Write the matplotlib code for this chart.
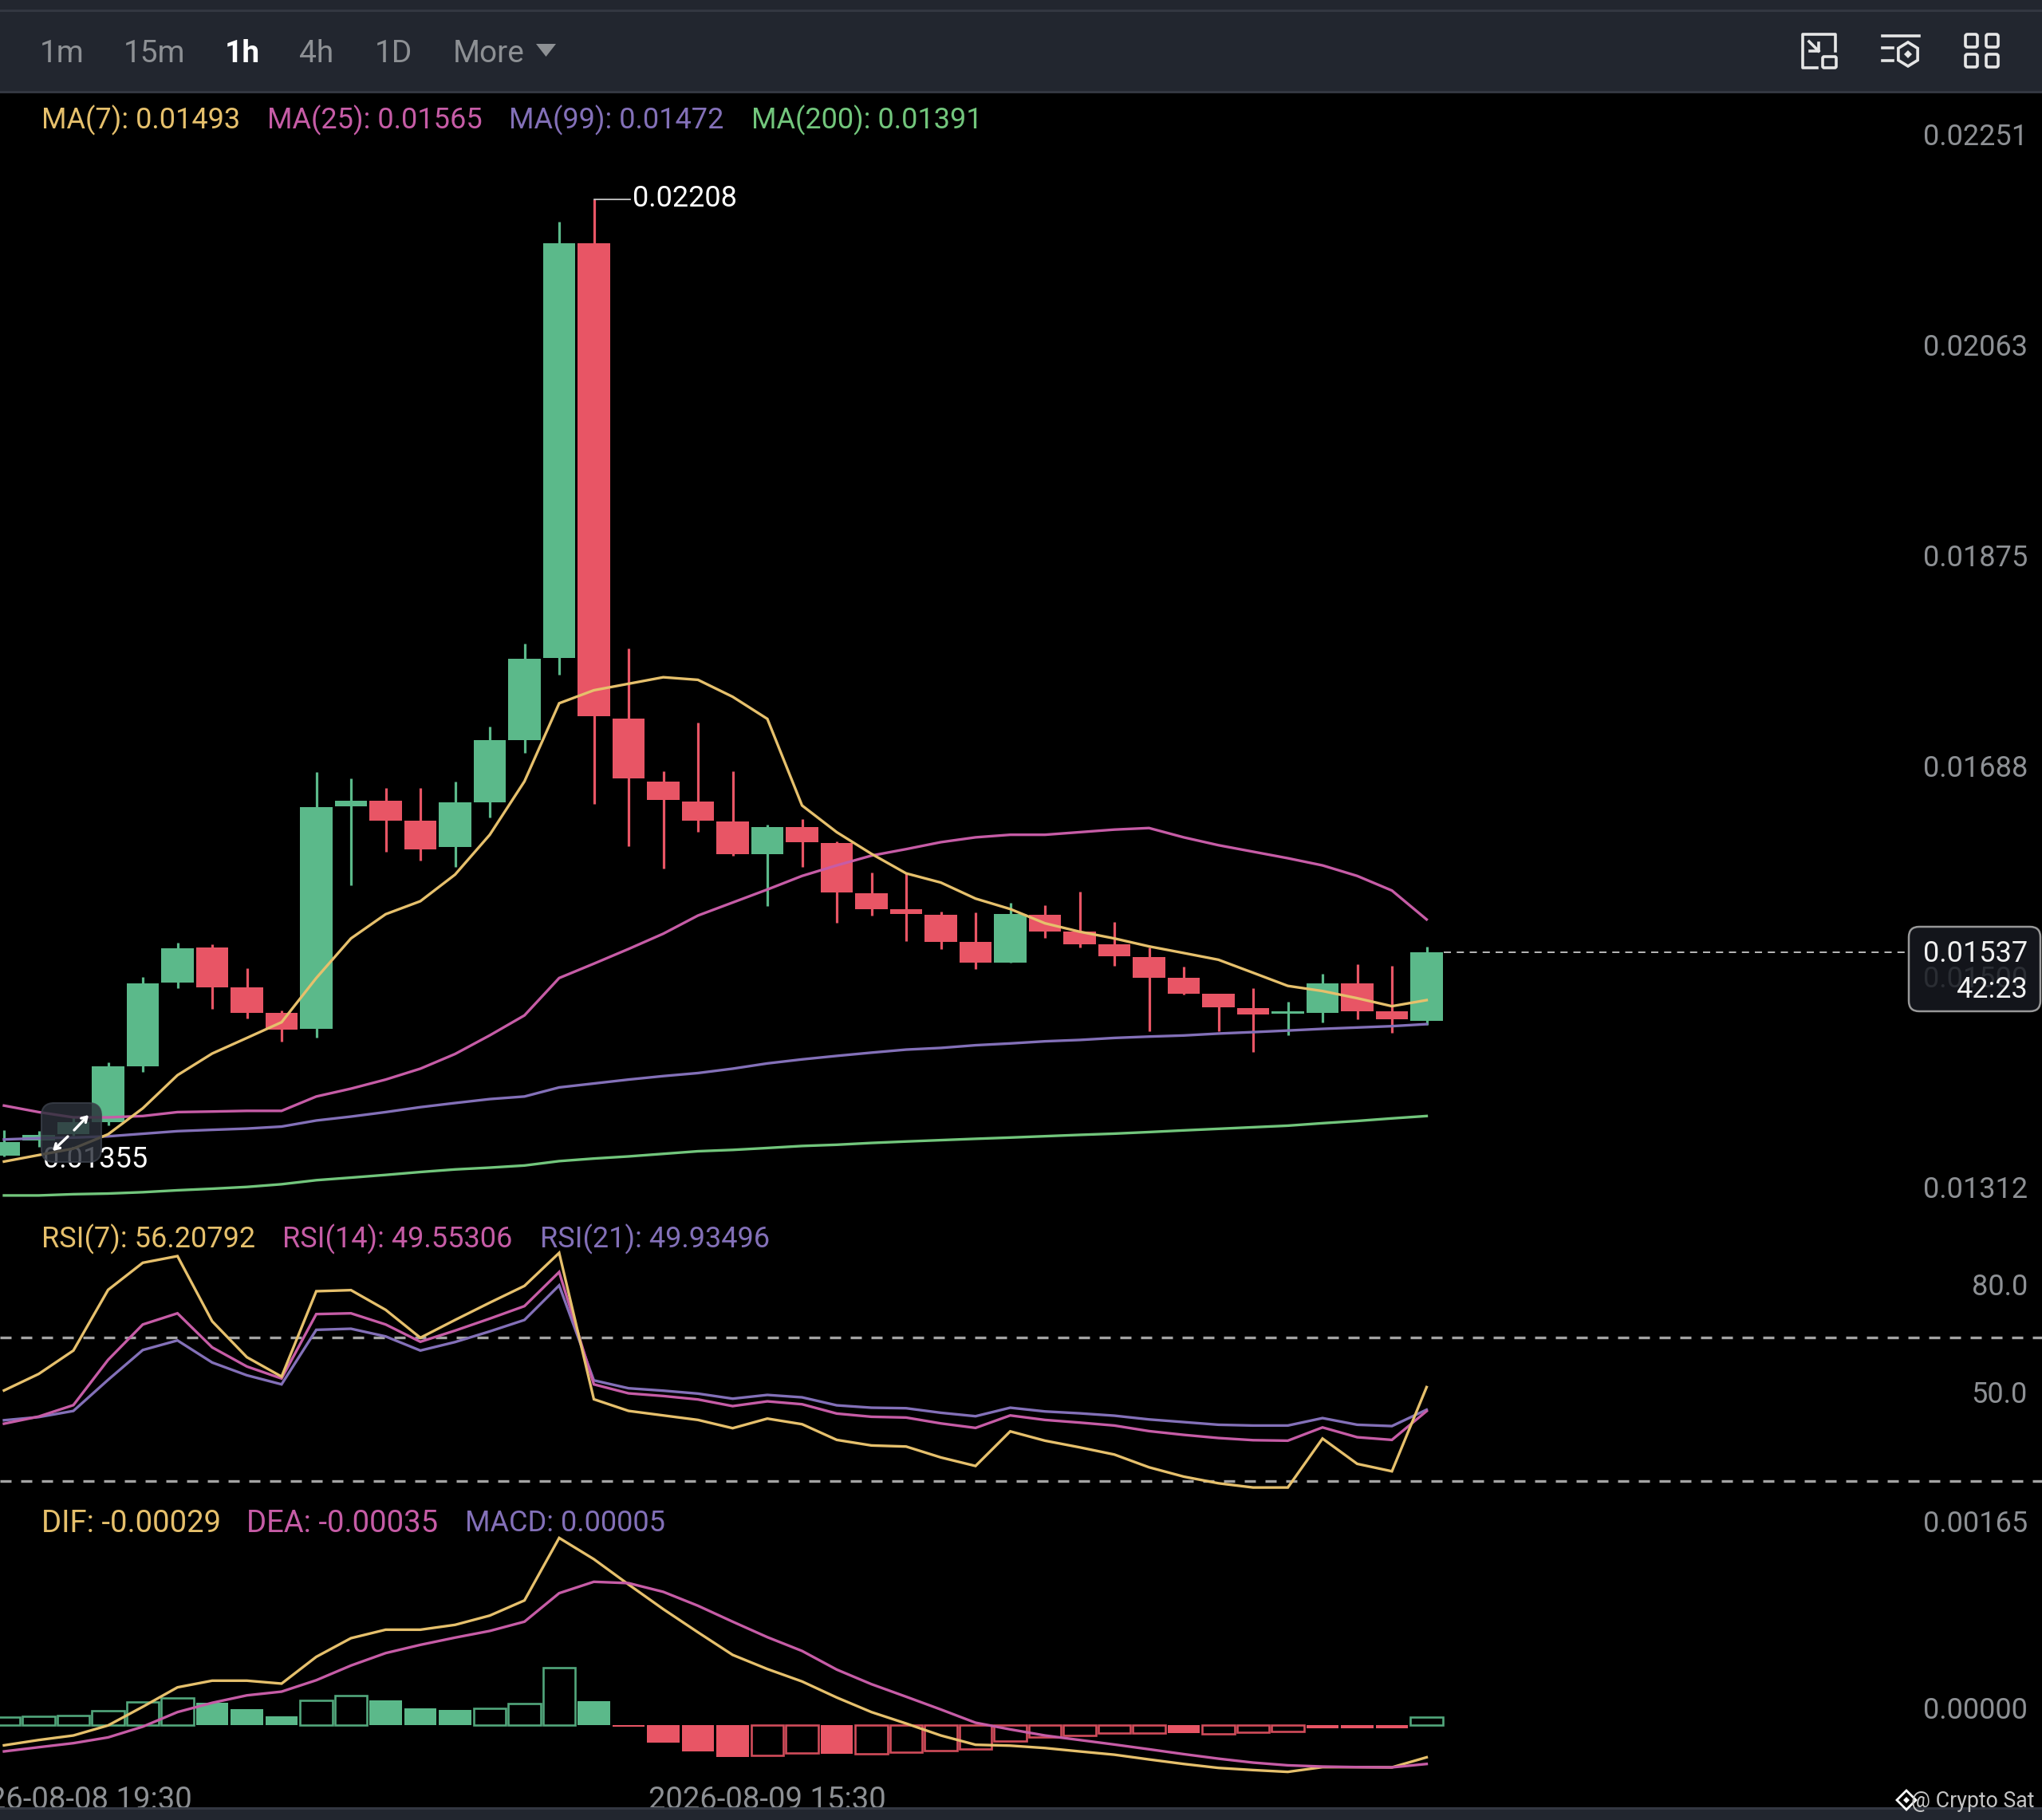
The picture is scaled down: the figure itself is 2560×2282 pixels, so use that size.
import numpy as np
import matplotlib
matplotlib.use("Agg")
import matplotlib.pyplot as plt
from matplotlib.patches import FancyBboxPatch, Polygon, Rectangle

plt.rcParams["font.family"] = ["Roboto", "DejaVu Sans"]

# candles, oldest first
opens = [0.01356, 0.013693, 0.013752, 0.013852, 0.014351, 0.015097, 0.015411, 0.015059, 0.014827, 0.014687, 0.016668,
         0.016721, 0.016545, 0.016305, 0.016707, 0.017264, 0.017995, 0.021687, 0.01745, 0.016893, 0.016713, 0.016535,
         0.016243, 0.016487, 0.016341, 0.015895, 0.015755, 0.015702, 0.015465, 0.015279, 0.015702, 0.015553, 0.015442,
         0.015328, 0.01514, 0.015001, 0.014873, 0.01482, 0.01483, 0.015094, 0.014842, 0.014759]
closes = [0.013678, 0.01374, 0.013852, 0.014356, 0.015094, 0.015407, 0.015059, 0.014827, 0.014677, 0.016664, 0.016721,
          0.016546, 0.016287, 0.016707, 0.017264, 0.017984, 0.021687, 0.017473, 0.016916, 0.01673, 0.016545, 0.016244,
          0.016487, 0.01635, 0.015906, 0.015755, 0.015714, 0.015465, 0.015279, 0.015714, 0.015553, 0.015442, 0.015333,
          0.01514, 0.015001, 0.014878, 0.014817, 0.014844, 0.015094, 0.014842, 0.014771, 0.01537]
highs = [0.013782, 0.013776, 0.013898, 0.014392, 0.015152, 0.015457, 0.015442, 0.015224, 0.01485, 0.016974, 0.016916,
         0.016835, 0.016835, 0.016893, 0.01738, 0.018123, 0.021884, 0.02208, 0.018077, 0.016986, 0.017415, 0.016986,
         0.01651, 0.016556, 0.016359, 0.01608, 0.01608, 0.015732, 0.015725, 0.015813, 0.01579, 0.015909, 0.015639,
         0.015411, 0.015245, 0.015001, 0.015052, 0.014931, 0.015175, 0.015261, 0.015252, 0.015422]
lows = [0.01355, 0.013636, 0.013736, 0.013829, 0.014306, 0.015047, 0.014862, 0.01478, 0.014571, 0.014606, 0.015964,
        0.016266, 0.016185, 0.016127, 0.016568, 0.017148, 0.017845, 0.016695, 0.016312, 0.016115, 0.016446, 0.016231,
        0.015782, 0.016127, 0.015631, 0.015697, 0.01547, 0.015399, 0.015221, 0.015279, 0.0155, 0.015411, 0.015252,
        0.014669, 0.01499, 0.014669, 0.014479, 0.014629, 0.014746, 0.014769, 0.014653, 0.014722]

ma7 = [0.013504, 0.013562, 0.01362, 0.013747, 0.013979, 0.014274, 0.014467, 0.014606, 0.014746, 0.01514, 0.015493,
       0.015709, 0.015825, 0.016062, 0.016417, 0.016893, 0.017589, 0.017705, 0.017763, 0.017821, 0.017798, 0.017647,
       0.01745, 0.016678, 0.01644, 0.016247, 0.016073, 0.015991, 0.015848, 0.015755, 0.015628, 0.015553, 0.015493,
       0.015422, 0.015363, 0.015303, 0.015187, 0.01507, 0.015024, 0.01496, 0.014889, 0.014943]
ma25 = [0.014003, 0.013945, 0.013898, 0.013898, 0.01391, 0.013945, 0.01395, 0.013956, 0.013956, 0.014084, 0.014154,
        0.014235, 0.014332, 0.014463, 0.014629, 0.014807, 0.01514, 0.015268, 0.015399, 0.015535, 0.015697, 0.015813,
        0.015929, 0.01605, 0.016144, 0.016231, 0.016289, 0.016351, 0.016394, 0.016417, 0.016417, 0.01644, 0.016463,
        0.016477, 0.016394, 0.016324, 0.016266, 0.016208, 0.016144, 0.01605, 0.01592, 0.015662]
ma99 = [0.013701, 0.013712, 0.013718, 0.013729, 0.013752, 0.013775, 0.013787, 0.013798, 0.013816, 0.01387, 0.013905,
        0.013945, 0.013989, 0.014026, 0.014061, 0.014084, 0.014165, 0.0142, 0.014235, 0.014266, 0.014293, 0.014332,
        0.014379, 0.014415, 0.014446, 0.014475, 0.014502, 0.014517, 0.014541, 0.014557, 0.014576, 0.014588, 0.014606,
        0.014618, 0.014628, 0.014645, 0.014658, 0.014672, 0.014687, 0.014699, 0.014711, 0.014729]
ma200 = [0.013202, 0.013202, 0.013213, 0.013219, 0.013231, 0.013248, 0.013262, 0.013278, 0.013302, 0.013338, 0.013361,
         0.013385, 0.013411, 0.013434, 0.01345, 0.013469, 0.013508, 0.013531, 0.01355, 0.013573, 0.013596, 0.013608,
         0.013625, 0.013643, 0.013654, 0.01367, 0.013683, 0.013695, 0.013707, 0.013718, 0.01373, 0.013742, 0.013753,
         0.013767, 0.013782, 0.013796, 0.01381, 0.013824, 0.013846, 0.013866, 0.013889, 0.01391]

rsi7 = [55.28, 59.87, 66.38, 83.24, 90.78, 92.63, 74.51, 64.53, 59.13, 82.87, 83.17, 77.69, 69.93, 74.88, 79.69, 84.35,
        93.52, 52.84, 49.6, 48.34, 47.09, 44.79, 47.46, 45.9, 41.54, 39.99, 39.69, 36.66, 34.29, 43.91, 41.32, 39.47,
        37.47, 33.92, 31.33, 29.48, 28.3, 28.3, 41.91, 34.88, 32.81, 56.21]
rsi14 = [46.04, 48.03, 51.21, 63.79, 73.62, 76.73, 67.26, 61.94, 58.61, 76.51, 76.73, 73.62, 68.82, 71.92, 75.25, 78.73,
         88.2, 56.98, 54.48, 53.74, 52.78, 50.93, 52.26, 51.45, 48.86, 47.97, 47.75, 46.12, 44.87, 48.34, 47.09, 46.35,
         45.53, 43.98, 42.94, 42.06, 41.46, 41.32, 45.01, 42.28, 41.54, 49.55]
rsi21 = [47.0, 47.88, 49.59, 58.24, 66.52, 69.19, 63.05, 59.5, 56.98, 72.14, 72.44, 70.3, 66.38, 68.74, 71.7, 74.88,
         84.5, 58.09, 55.89, 55.22, 54.41, 53.0, 54.04, 53.37, 51.15, 50.49, 50.34, 49.08, 48.12, 50.49, 49.45, 48.93,
         48.27, 47.23, 46.49, 45.75, 45.53, 45.53, 47.6, 45.75, 45.38, 49.93]

dif = [-0.000181, -0.000134, -0.000094, -0.000005, 0.00016, 0.000332, 0.000391, 0.000391, 0.000365, 0.000602, 0.000767,
       0.000842, 0.000842, 0.000885, 0.000967, 0.001101, 0.001654, 0.001466, 0.001242, 0.001024, 0.000819, 0.000619,
       0.000494, 0.000384, 0.000242, 0.000113, 0.000012, -0.000094, -0.000176, -0.000184, -0.000205, -0.000235,
       -0.000264, -0.000306, -0.000346, -0.000381, -0.0004, -0.000416, -0.000374, -0.000374, -0.000376, -0.000287]
dea = [-0.000235, -0.000198, -0.000162, -0.000111, -0.000016, 0.000113, 0.000195, 0.000261, 0.000294, 0.000395,
       0.000525, 0.000635, 0.000708, 0.000772, 0.000831, 0.000913, 0.001165, 0.001266, 0.001254, 0.001177, 0.001054,
       0.000913, 0.000776, 0.000654, 0.000489, 0.00036, 0.000249, 0.000136, 0.000019, -0.00004, -0.000094, -0.000134,
       -0.000174, -0.000216, -0.000259, -0.000299, -0.000334, -0.000358, -0.000369, -0.000374, -0.000376, -0.000346]
macd = [0.000066, 0.000075, 0.000085, 0.000125, 0.0002, 0.00024, 0.000195, 0.000136, 0.000073, 0.000214, 0.000259,
        0.000219, 0.000148, 0.000129, 0.000148, 0.000191, 0.000508, 0.000207, -0.000016, -0.000158, -0.000235,
        -0.000282, -0.000271, -0.000252, -0.000259, -0.000259, -0.000245, -0.000228, -0.000216, -0.000146, -0.000111,
        -0.000094, -0.000075, -0.000075, -0.000071, -0.00008, -0.000068, -0.000056, -0.000033, -0.000033, -0.000033,
        0.000066]
macd_filled = [6, 7, 8, 11, 12, 13, 17, 18, 19, 20, 21, 24, 34, 38, 39, 40]

price_ticks = [0.02251, 0.02063, 0.01875, 0.01688, 0.015, 0.01312]
rsi_ticks = [80.0, 50.0]
rsi_levels = [70, 30]
macd_ticks = [0.00165, 0.0]
time_ticks = [2, 22]
time_labels = ["2026-08-08 19:30", "2026-08-09 15:30"]
last_price = 0.01537
countdown = "42:23"
high_price = 0.02208
low_price = 0.01355

intervals = ["1m", "15m", "1h", "4h", "1D", "More"]
ma_legend = ["MA(7): 0.01493", "MA(25): 0.01565", "MA(99): 0.01472", "MA(200): 0.01391"]
rsi_legend = ["RSI(7): 56.20792", "RSI(14): 49.55306", "RSI(21): 49.93496"]
macd_legend = ["DIF: -0.00029", "DEA: -0.00035", "MACD: 0.00005"]

YELLOW = "#e6c06c"
PINK = "#c65ca6"
PURPLE = "#8370b8"
LIME = "#72c67c"
UP = "#5bb98a"
DOWN = "#e85565"
GREY = "#8d9094"
HEADER = "#22262f"
SEP = "#333741"

W, H = 2560, 2282
STEP = 43.5
fig = plt.figure(figsize=(W / 100, H / 100), dpi=100, facecolor="black")


def panel(top, bottom, ylim):
    ax = fig.add_axes([0, 1 - bottom / H, 1, (bottom - top) / H])
    ax.set_facecolor("black")
    ax.set_xlim(-5 / STEP, (W - 5) / STEP)
    ax.set_ylim(*ylim)
    ax.set_xticks([])
    ax.set_yticks([])
    for s in ax.spines.values():
        s.set_visible(False)
    return ax


def right_labels(ax, values, fmt):
    for v in values:
        ax.annotate(fmt % v, xy=(1, v), xycoords=("axes fraction", "data"), xytext=(-18, 0),
                    textcoords="offset pixels", ha="right", va="bottom", color=GREY, fontsize=FS)


FS = 26
x = np.arange(len(closes))

# main panel
ax = panel(116, 1530, (0.012981, 0.023033))
o, c, h, l = map(np.array, (opens, closes, highs, lows))
candle_colors = [UP if b >= a else DOWN for a, b in zip(o, c)]
ax.vlines(x, l, h, colors=candle_colors, lw=2.3, zorder=2)
ax.bar(x, np.abs(c - o), bottom=np.minimum(o, c), width=0.92, color=candle_colors, zorder=3)
for series, col in zip([ma200, ma99, ma25, ma7], [LIME, PURPLE, PINK, YELLOW]):
    ax.plot(x, series, color=col, lw=2.4, zorder=4, solid_joinstyle="miter")
right_labels(ax, price_ticks, "%.5f")

# last price line and high / low callouts
ax.plot([41.5, 54.9], [last_price, last_price], color="#c8c8c8", lw=1.3, dashes=(5, 4), zorder=2)
ax.plot([17, 18.05], [high_price, high_price], color="#d8d8d8", lw=1.2, zorder=5)
ax.annotate("%.5f" % high_price, xy=(18.11, high_price), xytext=(0, 1), textcoords="offset pixels",
            va="center", ha="left", color="white", fontsize=FS)
ax.annotate("%.5f" % low_price, xy=(1.12, low_price), xytext=(0, -4), textcoords="offset pixels",
            va="center", ha="left", color="white", fontsize=FS)

# RSI panel
ax_rsi = panel(1530, 1880, (25.0, 102.6))
for lev in rsi_levels:
    ax_rsi.axhline(lev, color="#a3a3a3", lw=2.4, dashes=(4.2, 3.6), zorder=1)
for series, col in zip([rsi21, rsi14, rsi7], [PURPLE, PINK, YELLOW]):
    ax_rsi.plot(x, series, color=col, lw=2.4, zorder=3, solid_joinstyle="miter")
right_labels(ax_rsi, rsi_ticks, "%.1f")

# MACD panel
ax_macd = panel(1880, 2267, (-0.000736, 0.001995))
for i, v in enumerate(macd):
    col = UP if v >= 0 else DOWN
    if i in macd_filled:
        ax_macd.bar(i, v, width=0.92, color=col, zorder=2)
    else:
        ax_macd.bar(i, v, width=0.92, facecolor="none", edgecolor=col, lw=1.9, alpha=0.9, zorder=2)
ax_macd.plot(x, dif, color=YELLOW, lw=2.4, zorder=3, solid_joinstyle="miter")
ax_macd.plot(x, dea, color=PINK, lw=2.4, zorder=3, solid_joinstyle="miter")
right_labels(ax_macd, macd_ticks, "%.5f")
ax_macd.set_xticks(time_ticks, time_labels)
ax_macd.tick_params(axis="x", length=0, pad=-20.5, labelcolor=GREY, labelsize=27.5)

# UI chrome on top, in pixel coordinates
ui = fig.add_axes([0, 0, 1, 1], zorder=10)
ui.set_xlim(0, W)
ui.set_ylim(H, 0)
ui.axis("off")
ui.patch.set_alpha(0)

ui.add_patch(Rectangle((0, 0), W, 115, color=HEADER, lw=0))
ui.add_patch(Rectangle((0, 12), W, 2.5, color=SEP, lw=0))
ui.add_patch(Rectangle((0, 114), W, 3, color=SEP, lw=0))
ui.add_patch(Rectangle((0, 2267), W, 15, color=HEADER, lw=0))
ui.add_patch(Rectangle((0, 2266), W, 2.5, color=SEP, lw=0))

for label, px in zip(intervals, [50, 155, 282, 375, 470, 568]):
    active = label == "1h"
    ui.text(px, 67, label, color="white" if active else GREY, fontsize=28, ha="left", va="center",
            fontweight="bold" if active else "normal")
ui.add_patch(Polygon([[672, 55], [697, 55], [684.5, 71]], color=GREY, lw=0))

for label, px, col in zip(ma_legend, [52, 335, 638, 942], [YELLOW, PINK, PURPLE, LIME]):
    ui.text(px, 150.5, label, color=col, fontsize=FS, ha="left", va="center")
for label, px, col in zip(rsi_legend, [52, 354, 677], [YELLOW, PINK, PURPLE]):
    ui.text(px, 1553.5, label, color=col, fontsize=FS, ha="left", va="center")
for label, px, col, fs in zip(macd_legend, [52, 309, 583], [YELLOW, PINK, PURPLE], [27.5, 27.5, FS]):
    ui.text(px, 1910.5, label, color=col, fontsize=fs, ha="left", va="center")

# header icons
ICON = "#e6e6e6"
lw_i = 2.6
ui.plot([2278, 2260, 2260, 2301, 2301], [85, 85, 43, 43, 64], color=ICON, lw=lw_i)
ui.add_patch(FancyBboxPatch((2285, 71), 17, 14, boxstyle="round,pad=0,rounding_size=2", fc="none", ec=ICON, lw=lw_i))
ui.plot([2268, 2280], [52, 64], color=ICON, lw=lw_i)
ui.plot([2269, 2280, 2280], [64, 64, 54], color=ICON, lw=lw_i)

ui.plot([2360, 2406], [45, 45], color=ICON, lw=lw_i)
ui.plot([2360, 2373], [60, 60], color=ICON, lw=lw_i)
ui.plot([2360, 2373], [76, 76], color=ICON, lw=lw_i)
hex_a = np.deg2rad(np.arange(30, 390, 60))
ui.add_patch(Polygon(np.c_[2392 + 14 * np.cos(hex_a), 68 + 15 * np.sin(hex_a)], closed=True, fc="none", ec=ICON, lw=lw_i))
ui.add_patch(Polygon([[2392, 63], [2397, 68], [2392, 73], [2387, 68]], color=ICON, lw=0))

for bx in (2464, 2490):
    for by in (43, 68):
        ui.add_patch(FancyBboxPatch((bx, by), 15, 16, boxstyle="round,pad=0,rounding_size=2.5",
                                    fc="none", ec=ICON, lw=lw_i))

# price box
ui.add_patch(FancyBboxPatch((2393, 1162), 165, 106, boxstyle="round,pad=0,rounding_size=13",
                            fc="#171a21", ec="#b4b4b4", lw=1.8, alpha=0.84))
ui.text(2542, 1196, "%.5f" % last_price, color="#f0f0f0", fontsize=FS, ha="right", va="center")
ui.text(2542, 1241, countdown, color="#f0f0f0", fontsize=FS, ha="right", va="center")

# expand button over the chart
ui.add_patch(FancyBboxPatch((52, 1383), 75, 74, boxstyle="round,pad=0,rounding_size=16",
                            fc="#2b303a", ec="#3b404a", lw=1.5, alpha=0.82))
for start, end in [((93, 1417), (111, 1398)), ((85, 1425), (66, 1443))]:
    ui.annotate("", xy=end, xytext=start, arrowprops=dict(arrowstyle="->,head_length=0.45,head_width=0.28", color="white",
                                                          lw=2.4, shrinkA=0, shrinkB=0))

# watermark
ui.add_patch(Polygon([[2390, 2245], [2402, 2257], [2390, 2269], [2378, 2257]], closed=True, fc="none", ec="white", lw=2))
ui.add_patch(Polygon([[2390, 2253], [2394, 2257], [2390, 2261], [2386, 2257]], color="white", lw=0))
ui.text(2550, 2259, "@ Crypto Sat", color="#c4c4c4", fontsize=19.3, ha="right", va="center")

fig.savefig("out.png", dpi=100, facecolor="black")
